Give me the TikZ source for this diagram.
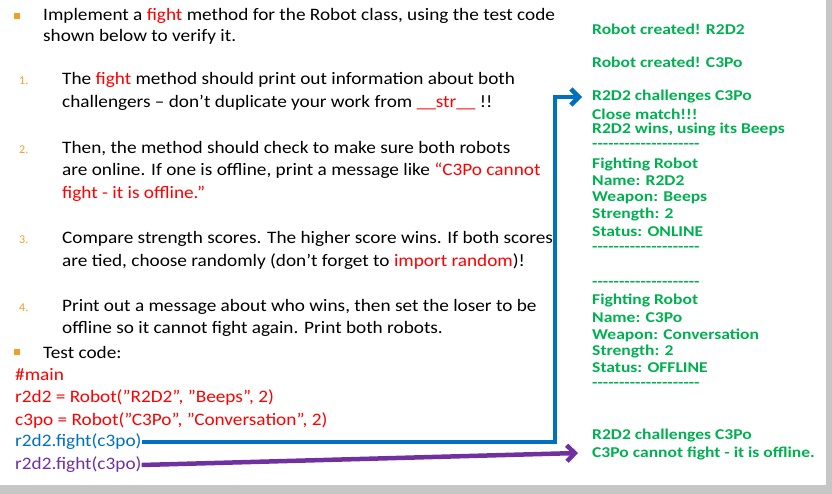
\documentclass[tikz,border=0pt]{standalone}
\usepackage{fontspec}
\usepackage{graphicx}
\setmainfont{Carlito}
\usetikzlibrary{arrows.meta}
\definecolor{gr}{RGB}{0,176,80}
\definecolor{bl}{RGB}{0,112,192}
\definecolor{pu}{RGB}{112,48,160}
\definecolor{rd}{RGB}{255,0,0}
\definecolor{og}{RGB}{240,160,40}
\newcommand\Tx[1]{\scalebox{1.1}[1]{#1}}
\newcommand\Gx[1]{\scalebox{1.17}[1]{#1}}
\newcommand\qq{\symbol{34}}
\newcommand\dashline{-\kern0pt-\kern0pt-\kern0pt-\kern0pt-\kern0pt-\kern0pt-\kern0pt-\kern0pt-\kern0pt-\kern0pt-\kern0pt-\kern0pt-\kern0pt-\kern0pt-\kern0pt-\kern0pt-\kern0pt-\kern0pt-\kern0pt-}
\begin{document}
\begin{tikzpicture}[x=1pt,y=-1pt,
 t/.style={anchor=west,inner sep=0pt,font=\fontsize{17.5}{20}\selectfont},
 num/.style={anchor=west,inner sep=0pt,text=og,font=\fontsize{12}{13}\selectfont},
 g/.style={anchor=west,inner sep=0pt,text=gr,font=\fontsize{15}{16}\selectfont\bfseries},
 bul/.style={fill=og,minimum size=6pt,inner sep=0pt}]
\useasboundingbox (0,0) rectangle (832,494);
\fill[gray!45] (0,485) rectangle (832,494);
\fill[gray!45] (826,0) rectangle (832,494);
\node[bul] (b1) at (17,16) {};
\node[t] (l1) at (43,16) {\Tx{Implement a \textcolor{rd}{fight} method for the Robot class, using the test code}};
\node[t] (l2) at (43,37) {\Tx{shown below to verify it.}};
\node[num] (n1) at (19,81) {1.};
\node[t] (l3) at (62,80) {\Tx{The \textcolor{rd}{fight} method should print out information about both}};
\node[t] (l4) at (62,103) {\Tx{challengers – don’t duplicate your work from \textcolor{rd}{\_\_str\_\_} !!}};
\node[num] (n2) at (19,150) {2.};
\node[t] (l5) at (62,149) {\Tx{Then, the method should check to make sure both robots}};
\node[t] (l6) at (62,171) {\Tx{are online. If one is offline, print a message like \textcolor{rd}{“C3Po cannot}}};
\node[t] (l7) at (62,194) {\Tx{\textcolor{rd}{fight - it is offline.”}}};
\node[num] (n3) at (19,240) {3.};
\node[t] (l8) at (62,239) {\Tx{Compare strength scores. The higher score wins. If both scores}};
\node[t] (l9) at (62,262) {\Tx{are tied, choose randomly (don’t forget to \textcolor{rd}{import random})!}};
\node[num] (n4) at (19,308) {4.};
\node[t] (l10) at (62,307) {\Tx{Print out a message about who wins, then set the loser to be}};
\node[t] (l11) at (62,329) {\Tx{offline so it cannot fight again. Print both robots.}};
\node[bul] (b2) at (17,352) {};
\node[t] (l12) at (43,352) {\Tx{Test code:}};
\node[t,text=rd] (c1) at (15,375) {\Tx{\#main}};
\node[t,text=rd] (c2) at (15,398) {\Tx{r2d2 = Robot(\qq R2D2\qq, \qq Beeps\qq, 2)}};
\node[t,text=rd] (c3) at (15,421) {\Tx{c3po = Robot(\qq C3Po\qq, \qq Conversation\qq, 2)}};
\node[t,text=bl] (c4) at (15,442) {\Tx{r2d2.fight(c3po)}};
\node[t,text=pu] (c5) at (15,465) {\Tx{r2d2.fight(c3po)}};
\node[g] (o1) at (592,29) {\Gx{Robot created! R2D2}};
\node[g] (o2) at (592,62) {\Gx{Robot created! C3Po}};
\node[g] (o3) at (592,97) {\Gx{R2D2 challenges C3Po}};
\node[g] (o4) at (592,114) {\Gx{Close match!!!}};
\node[g] (o5) at (592,130) {\Gx{R2D2 wins, using its Beeps}};
\node[g] (o6) at (592,146) {\Gx{\dashline}};
\node[g] (o7) at (592,164) {\Gx{Fighting Robot}};
\node[g] (o8) at (592,181) {\Gx{Name: R2D2}};
\node[g] (o9) at (592,198) {\Gx{Weapon: Beeps}};
\node[g] (o10) at (592,215) {\Gx{Strength: 2}};
\node[g] (o11) at (592,232) {\Gx{Status: ONLINE}};
\node[g] (o12) at (592,249) {\Gx{\dashline}};
\node[g] (o13) at (592,284) {\Gx{\dashline}};
\node[g] (o14) at (592,300) {\Gx{Fighting Robot}};
\node[g] (o15) at (592,318) {\Gx{Name: C3Po}};
\node[g] (o16) at (592,335) {\Gx{Weapon: Conversation}};
\node[g] (o17) at (592,352) {\Gx{Strength: 2}};
\node[g] (o18) at (592,368) {\Gx{Status: OFFLINE}};
\node[g] (o19) at (592,385) {\Gx{\dashline}};
\node[g] (o20) at (592,436) {\Gx{R2D2 challenges C3Po}};
\node[g] (o21) at (592,453) {\Gx{C3Po cannot fight - it is offline.}};
\draw[bl,line width=4.5pt,-{Straight Barb[length=8pt,width=16pt]}] (c4.east) -- (555,442) |- ([xshift=-10pt]o3.west);
\draw[pu,line width=4.5pt,-{Straight Barb[length=8pt,width=16pt]}] (c5.east) -- ([xshift=-14pt]o21.west);
\end{tikzpicture}
\end{document}
